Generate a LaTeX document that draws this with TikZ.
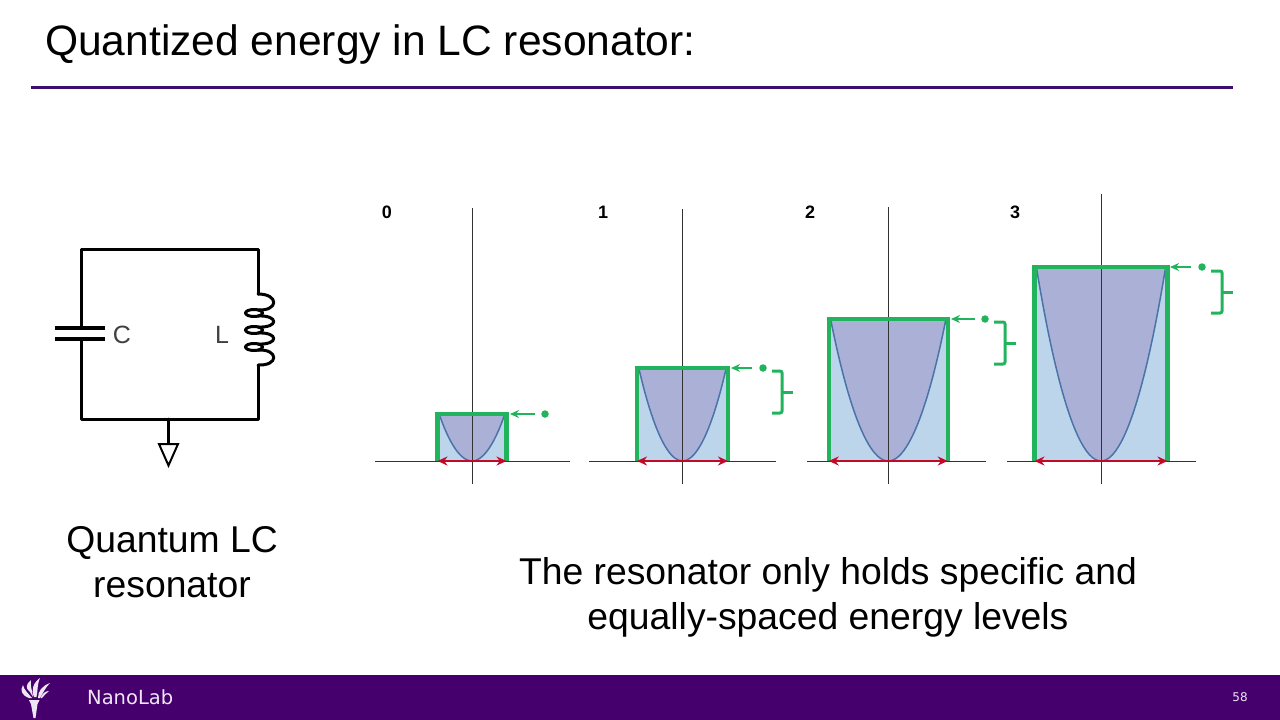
\documentclass[tikz,border=0pt]{standalone}
\usepackage{fontspec}
\setmainfont{Liberation Sans}
\newfontfamily\footfont{DejaVu Sans}
\usetikzlibrary{arrows.meta}
\definecolor{nyupurple}{HTML}{45006E}
\definecolor{rulepurple}{HTML}{3C0F70}
\definecolor{levelgreen}{HTML}{21B45C}
\definecolor{wellblue}{HTML}{BDD5EA}
\definecolor{wellfill}{HTML}{ABB0D6}
\definecolor{wellline}{HTML}{4A74A8}
\definecolor{widthred}{HTML}{C00A28}
\definecolor{flame}{HTML}{EFE6F4}
\tikzset{
	slidetext/.style={inner sep=0pt, align=center, font=\fontsize{37.3}{45}\selectfont},
	levelnum/.style={inner sep=0pt, font=\fontsize{18}{18}\selectfont\bfseries},
	compname/.style={inner sep=0pt, text=black!75, font=\fontsize{25}{25}\selectfont},
	wire/.style={line width=3pt, line cap=round, line join=round},
	plate/.style={line width=3.7pt},
	axisline/.style={line width=1pt, draw=black!80},
	greenbox/.style={line width=4.3pt, draw=levelgreen, line join=miter},
	greenarrow/.style={line width=1.3pt, draw=levelgreen, -{Stealth[length=9pt,width=8pt]}},
	greenbrace/.style={line width=3pt, draw=levelgreen, rounded corners=2pt},
	leveldot/.style={circle, fill=levelgreen, inner sep=0pt, minimum size=7.5pt},
	widtharrow/.style={line width=2.7pt, draw=widthred, {Stealth[length=10pt,width=9pt]}-{Stealth[length=10pt,width=9pt]}},
	wellcurve/.style={line width=1.5pt, draw=wellline, fill=wellfill}
}
\begin{document}
\begin{tikzpicture}[x=1pt,y=-1pt]
	\useasboundingbox (0,0) rectangle (1280,720);
	\fill[white] (0,0) rectangle (1280,720);
	
	%Title
	\node[inner sep=0pt, anchor=base west, font=\fontsize{42.55}{42.55}\selectfont] (title) at (45,55) {Quantized energy in LC resonator:};
	\coordinate (ruleL) at (31,87.5);
	\coordinate (ruleR) at (1233,87.5);
	\draw[line width=3pt, draw=rulepurple] (ruleL) -- (ruleR);
	
	%Circuit
	\coordinate (capT) at (81,328);
	\coordinate (capB) at (81,339);
	\coordinate (indT) at (258,294);
	\coordinate (indB) at (258,365);
	\coordinate (gndT) at (168.5,419);
	\coordinate (gndB) at (168.5,443);
	\draw[wire] (capT) -- (81,249) -- (258,249) -- (indT);
	\draw[wire] (capB) -- (81,419) -- (258,419) -- (indB);
	\draw[plate] (55,328) -- (105,328);
	\draw[plate] (55,339) -- (105,339);
	\draw[wire] (254,313) ellipse (8.5pt and 3.5pt);
	\draw[wire] (254,330) ellipse (8.5pt and 3.5pt);
	\draw[wire] (254,347) ellipse (8.5pt and 3.5pt);
	\draw[wire] (indT) .. controls (279,294) and (279,311) .. (258,310);
	\draw[wire] (258,316) .. controls (279,315) and (279,328) .. (258,327);
	\draw[wire] (258,333) .. controls (279,332) and (279,345) .. (258,344);
	\draw[wire] (258,350) .. controls (279,349) and (279,366) .. (indB);
	\draw[wire] (gndT) -- (gndB);
	\draw[line width=2pt, line join=miter] (159,444) -- (178,444) -- (168.5,465.5) -- cycle;
	\node[compname] (C) at (122,335) {C};
	\node[compname] (L) at (222,335) {L};
	\node[slidetext] (name) at (172,562.5) {Quantum LC\\resonator};
	
	%Level 0
	\def\x{472}
	\def\w{34.5}
	\def\ya{414}
	\node[levelnum] (A1) at (387,212) {0};
	\coordinate (A2) at (\x-\w,461);
	\coordinate (A3) at (\x-\w,\ya);
	\coordinate (A4) at (\x+\w,\ya);
	\coordinate (A5) at (\x+\w,461);
	\coordinate (A6) at (\x,461);
	\fill[wellblue] (A3) rectangle (A5);
	\draw[wellcurve] (\x-\w+2,\ya+1) parabola[bend at end] (A6) parabola (\x+\w-2,\ya+1) -- cycle;
	\draw[axisline] (375,461.5) -- (570,461.5);
	\draw[axisline] (\x,208) -- (\x,484);
	\draw[greenbox] (A2) -- (A3) -- (A4) -- (A5);
	\draw[widtharrow] (A2) -- (A5);
	\node[leveldot] (A7) at (545,\ya) {};
	\draw[greenarrow] (535,\ya) -- (510,\ya);
	
	%Level 1
	\def\x{682.5}
	\def\w{45.5}
	\def\ya{368}
	\node[levelnum] (B1) at (603,212) {1};
	\coordinate (B2) at (\x-\w,461);
	\coordinate (B3) at (\x-\w,\ya);
	\coordinate (B4) at (\x+\w,\ya);
	\coordinate (B5) at (\x+\w,461);
	\coordinate (B6) at (\x,461);
	\fill[wellblue] (B3) rectangle (B5);
	\draw[wellcurve] (\x-\w+2,\ya+1) parabola[bend at end] (B6) parabola (\x+\w-2,\ya+1) -- cycle;
	\draw[axisline] (589,461) -- (776,461);
	\draw[axisline] (\x,209) -- (\x,484);
	\draw[greenbox] (B2) -- (B3) -- (B4) -- (B5);
	\draw[widtharrow] (B2) -- (B5);
	\node[leveldot] (B7) at (763,\ya) {};
	\draw[greenarrow] (752,\ya) -- (731,\ya);
	\draw[greenbrace] (772,371) -- (782,371) -- (782,413) -- (772,413);
	\draw[greenbrace] (782,392) -- (793,392);
	
	%Level 2
	\def\x{888.25}
	\def\w{59.5}
	\def\ya{319}
	\node[levelnum] (C1) at (810,212) {2};
	\coordinate (C2) at (\x-\w,461);
	\coordinate (C3) at (\x-\w,\ya);
	\coordinate (C4) at (\x+\w,\ya);
	\coordinate (C5) at (\x+\w,461);
	\coordinate (C6) at (\x,461);
	\fill[wellblue] (C3) rectangle (C5);
	\draw[wellcurve] (\x-\w+2,\ya+1) parabola[bend at end] (C6) parabola (\x+\w-2,\ya+1) -- cycle;
	\draw[axisline] (807,461) -- (986,461);
	\draw[axisline] (\x,207) -- (\x,484);
	\draw[greenbox] (C2) -- (C3) -- (C4) -- (C5);
	\draw[widtharrow] (C2) -- (C5);
	\node[leveldot] (C7) at (985,\ya) {};
	\draw[greenarrow] (975,\ya) -- (951,\ya);
	\draw[greenbrace] (994,322) -- (1005,322) -- (1005,364) -- (994,364);
	\draw[greenbrace] (1005,343) -- (1016,343);
	
	%Level 3
	\def\x{1101}
	\def\w{66.5}
	\def\ya{267}
	\node[levelnum] (D1) at (1015,212) {3};
	\coordinate (D2) at (\x-\w,461);
	\coordinate (D3) at (\x-\w,\ya);
	\coordinate (D4) at (\x+\w,\ya);
	\coordinate (D5) at (\x+\w,461);
	\coordinate (D6) at (\x,461);
	\fill[wellblue] (D3) rectangle (D5);
	\draw[wellcurve] (\x-\w+2,\ya+1) parabola[bend at end] (D6) parabola (\x+\w-2,\ya+1) -- cycle;
	\draw[axisline] (1007,461) -- (1196,461);
	\draw[axisline] (\x,194) -- (\x,484);
	\draw[greenbox] (D2) -- (D3) -- (D4) -- (D5);
	\draw[widtharrow] (D2) -- (D5);
	\node[leveldot] (D7) at (1202,\ya) {};
	\draw[greenarrow] (1191,\ya) -- (1170,\ya);
	\draw[greenbrace] (1211,271) -- (1222,271) -- (1222,313) -- (1211,313);
	\draw[greenbrace] (1222,292) -- (1233,292);
	
	%Caption
	\node[slidetext] (caption) at (828,597) {The resonator only holds specific and\\equally-spaced energy levels};
	
	%Footer
	\fill[nyupurple] (0,675) rectangle (1280,720);
	\node[inner sep=0pt, text=flame, anchor=base west, font=\footfont\fontsize{19.5}{19.5}\selectfont] (lab) at (87,704) {NanoLab};
	\node[inner sep=0pt, text=flame, font=\footfont\fontsize{12}{12}\selectfont] (page) at (1240,697) {58};
	
	%Torch
	\fill[flame] (29,700) -- (39.5,700) -- (37.5,704) -- (35.5,718) -- (33.5,718) -- (31,704) -- cycle;
	\fill[flame] (29,698) .. controls (21,695) and (20,690) .. (23,685) .. controls (24,690) and (28,693) .. (32,698) -- cycle;
	\fill[flame] (30,692) .. controls (25,688) and (26,684) .. (31,680) .. controls (30,685) and (32,690) .. (33,697) -- cycle;
	\fill[flame] (34,697) .. controls (31,690) and (33,683) .. (40,678) .. controls (37,685) and (38,690) .. (36.5,697) -- cycle;
	\fill[flame] (38,698) .. controls (38,691) and (42,686) .. (50,683) .. controls (45,688) and (43,693) .. (40,698) -- cycle;
	\fill[flame] (40.5,698) .. controls (42,694) and (45,691) .. (49,691) .. controls (46,693) and (44,696) .. (42,698) -- cycle;
\end{tikzpicture}
\end{document}
